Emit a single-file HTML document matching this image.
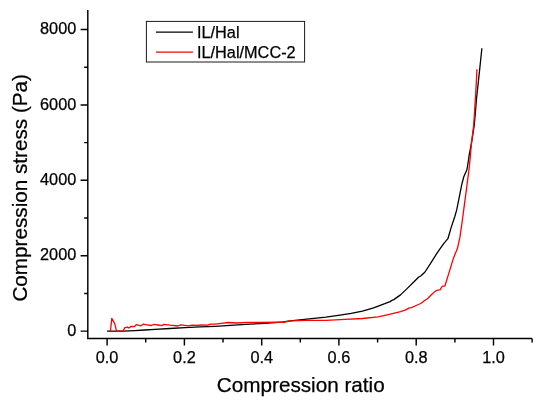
<!DOCTYPE html>
<html><head><meta charset="utf-8"><title>Compression stress vs ratio</title>
<style>
html,body{margin:0;padding:0;background:#fff;}
svg{display:block;font-family:"Liberation Sans",Arial,sans-serif;fill:#000;}
.ax{stroke:#000;stroke-width:1.45;fill:none;}
.tl{font-size:16.3px;}
.al{font-size:20.7px;}
text{stroke:#000;stroke-width:0.25px;}
</style></head><body>
<svg width="550" height="401" viewBox="0 0 550 401">
<rect width="550" height="401" fill="#fff"/>
<path class="ax" d="M87.8,10 V338.4 H532.1"/>
<path class="ax" d="M87.8,331.1 h-7.2 M87.8,293.4 h-3.6 M87.8,255.7 h-7.2 M87.8,218.0 h-3.6 M87.8,180.3 h-7.2 M87.8,142.6 h-3.6 M87.8,104.9 h-7.2 M87.8,67.2 h-3.6 M87.8,29.5 h-7.2 M107.1,338.4 v7.0 M145.7,338.4 v4.0 M184.4,338.4 v7.0 M223.0,338.4 v4.0 M261.7,338.4 v7.0 M300.3,338.4 v4.0 M338.9,338.4 v7.0 M377.6,338.4 v4.0 M416.2,338.4 v7.0 M454.9,338.4 v4.0 M493.5,338.4 v7.0 M532.1,338.4 v4.0 "/>
<text class="tl" x="76.3" y="335.7" text-anchor="end">0</text>
<text class="tl" x="76.3" y="260.3" text-anchor="end">2000</text>
<text class="tl" x="76.3" y="184.9" text-anchor="end">4000</text>
<text class="tl" x="76.3" y="109.5" text-anchor="end">6000</text>
<text class="tl" x="76.3" y="34.1" text-anchor="end">8000</text>
<text class="tl" x="107.1" y="363" text-anchor="middle">0.0</text>
<text class="tl" x="184.4" y="363" text-anchor="middle">0.2</text>
<text class="tl" x="261.7" y="363" text-anchor="middle">0.4</text>
<text class="tl" x="338.9" y="363" text-anchor="middle">0.6</text>
<text class="tl" x="416.2" y="363" text-anchor="middle">0.8</text>
<text class="tl" x="493.5" y="363" text-anchor="middle">1.0</text>
<text class="al" x="300.8" y="392" text-anchor="middle">Compression ratio</text>
<text class="al" transform="translate(27.4,187.8) rotate(-90)" text-anchor="middle">Compression stress (Pa)</text>
<polyline points="107.0,331.1 124.0,331.1 135.0,330.6 145.0,330.0 155.0,329.3 170.0,328.5 185.0,327.7 200.0,326.9 215.0,326.3 230.0,325.4 250.0,324.2 265.0,323.3 275.0,322.6 283.0,322.0 290.3,320.9 306.8,319.2 325.9,317.2 340.0,315.2 351.2,313.4 362.4,311.1 373.6,307.9 384.8,303.7 390.0,301.6 392.0,300.4 393.8,299.6 400.5,294.9 407.3,288.4 414.0,281.7 418.5,277.2 421.0,275.8 425.0,272.0 431.2,262.3 437.5,252.4 443.7,243.6 447.9,238.7 451.2,227.4 454.9,216.2 456.7,209.9 458.2,202.4 460.0,193.4 461.8,184.4 463.7,177.0 467.0,169.5 468.2,162.0 469.2,154.9 471.5,143.0 474.3,125.0 476.6,98.0 479.7,69.2 481.9,48.2" fill="none" stroke="#000" stroke-width="1.3" stroke-linejoin="round"/>
<polyline points="109.4,331.1 110.5,330.8 111.8,318.4 114.7,323.6 116.5,331.1 122.9,331.1 124.9,327.7 127.3,327.2 128.9,328.0 131.1,326.4 134.4,326.6 136.2,324.7 140.9,325.8 143.1,324.2 147.0,324.8 151.3,325.5 154.0,324.4 158.0,325.0 162.1,325.6 163.7,324.3 170.0,325.2 177.9,326.0 180.6,324.9 188.8,325.9 192.1,325.1 197.5,325.5 200.8,324.9 207.4,325.1 210.6,324.2 215.0,324.2 221.0,323.4 228.1,322.5 236.8,323.0 247.7,322.4 262.0,322.3 275.0,322.2 282.6,322.4 290.3,320.9 306.8,320.4 325.9,320.3 345.0,319.4 362.4,318.5 378.1,316.9 389.3,314.4 400.5,311.7 405.0,310.2 409.5,307.9 411.5,307.6 416.2,305.5 420.7,303.5 425.0,300.2 427.4,298.7 431.9,294.3 435.3,291.1 437.5,290.2 440.0,289.8 442.4,286.2 444.9,286.0 448.7,273.6 453.7,257.4 457.4,248.6 459.9,237.4 462.4,220.0 463.7,209.9 466.7,187.4 469.0,169.5 470.5,154.9 471.3,144.4 473.7,125.0 475.5,97.0 477.0,69.2" fill="none" stroke="#ff0000" stroke-width="1.3" stroke-linejoin="round"/>
<rect x="146.4" y="21.4" width="158.2" height="40.6" fill="#fff" stroke="#1a1a1a" stroke-width="1"/>
<path d="M155.9,32.2 H192.9" stroke="#000" stroke-width="1.3"/>
<path d="M155.9,52.2 H192.9" stroke="#ff0000" stroke-width="1.3"/>
<text class="tl" x="197" y="37.9">IL/Hal</text>
<text class="tl" x="197" y="57.9">IL/Hal/MCC-2</text>
</svg></body></html>
